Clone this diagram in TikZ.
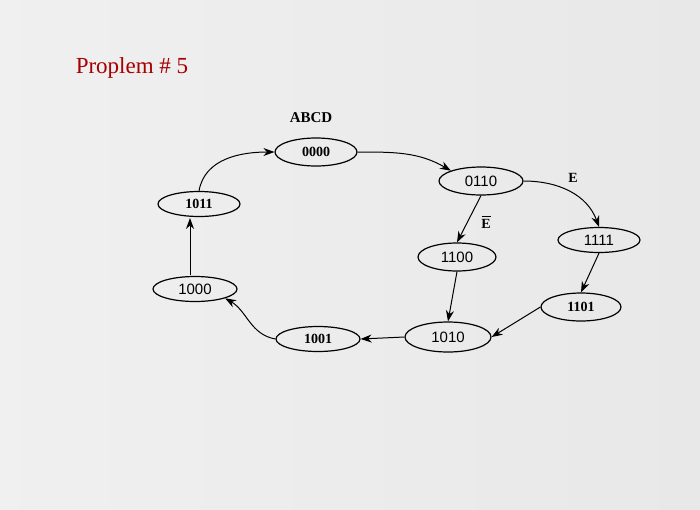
\documentclass[tikz,border=0pt]{standalone}
\usepackage{fontspec}
\setmainfont{Liberation Serif}
\newfontfamily\serifff{Liberation Serif}
\newfontfamily\arialf{Liberation Sans}
\usetikzlibrary{shapes.geometric,arrows.meta}
\begin{document}
\begin{tikzpicture}[x=1pt,y=-1pt,
  st/.style={ellipse,draw,line width=1.2pt,minimum height=25pt,inner sep=0pt},
  boldstate/.style={st,font=\serifff\bfseries\fontsize{14}{14}\selectfont},
  sansstate/.style={st,font=\arialf\fontsize{15}{15}\selectfont},
  ar/.style={-{Stealth[length=11pt,width=8pt]},line width=1pt}]
\fill[left color=white!88!gray, right color=white!82!gray] (0,0) rectangle (700,509);
\useasboundingbox (0,0) rectangle (700,509);
\node[text=red!65!black,font=\serifff\fontsize{23}{23}\selectfont] (t) at (132,68) {Proplem \# 5};
\node[font=\serifff\bfseries\fontsize{15}{15}\selectfont] (abcd) at (311,118) {ABCD};
\node[boldstate,minimum width=82pt,minimum height=28pt] (a) at (316,152) {0000};
\node[sansstate,minimum width=84pt,minimum height=28pt] (b) at (481,181) {0110};
\node[sansstate,minimum width=82pt] (c) at (599,240) {1111};
\node[sansstate,minimum width=78pt,minimum height=28pt] (d) at (457,257) {1100};
\node[boldstate,minimum width=80pt,minimum height=28pt] (e) at (581,307) {1101};
\node[sansstate,minimum width=86pt,minimum height=30pt] (f) at (448,337) {1010};
\node[boldstate,minimum width=84pt] (g) at (318,339) {1001};
\node[sansstate,minimum width=84pt] (h) at (195,289) {1000};
\node[boldstate,minimum width=82pt] (i) at (199,204) {1011};
\node[font=\serifff\bfseries\fontsize{14}{14}\selectfont] (lE) at (573,178) {E};
\node[font=\serifff\bfseries\fontsize{14}{14}\selectfont,inner sep=0pt] (lnE) at (486,222) {\vbox{\hrule width 9pt height 1.2pt\vskip2pt\hbox to 9pt{\hss E\hss}}};
\coordinate (hn) at (190,275);
\coordinate (is) at (190,218);
\draw[ar] (i.north) to[out=80,in=180] (a.west);
\draw[ar] (a.east) to[out=0,in=150] (b.north west);
\draw[ar] (b.east) to[out=0,in=110] (c.north);
\draw[ar] (b.south) -- (d.north);
\draw[ar] (c.south) -- (e.north);
\draw[ar] (d.south) -- (f.north);
\draw[ar] (e.west) -- (f.east);
\draw[ar] (f.west) -- (g.east);
\draw[ar] (g.west) to[out=170,in=-30] (h.south east);
\draw[ar] (hn) -- (is);
\end{tikzpicture}
\end{document}
